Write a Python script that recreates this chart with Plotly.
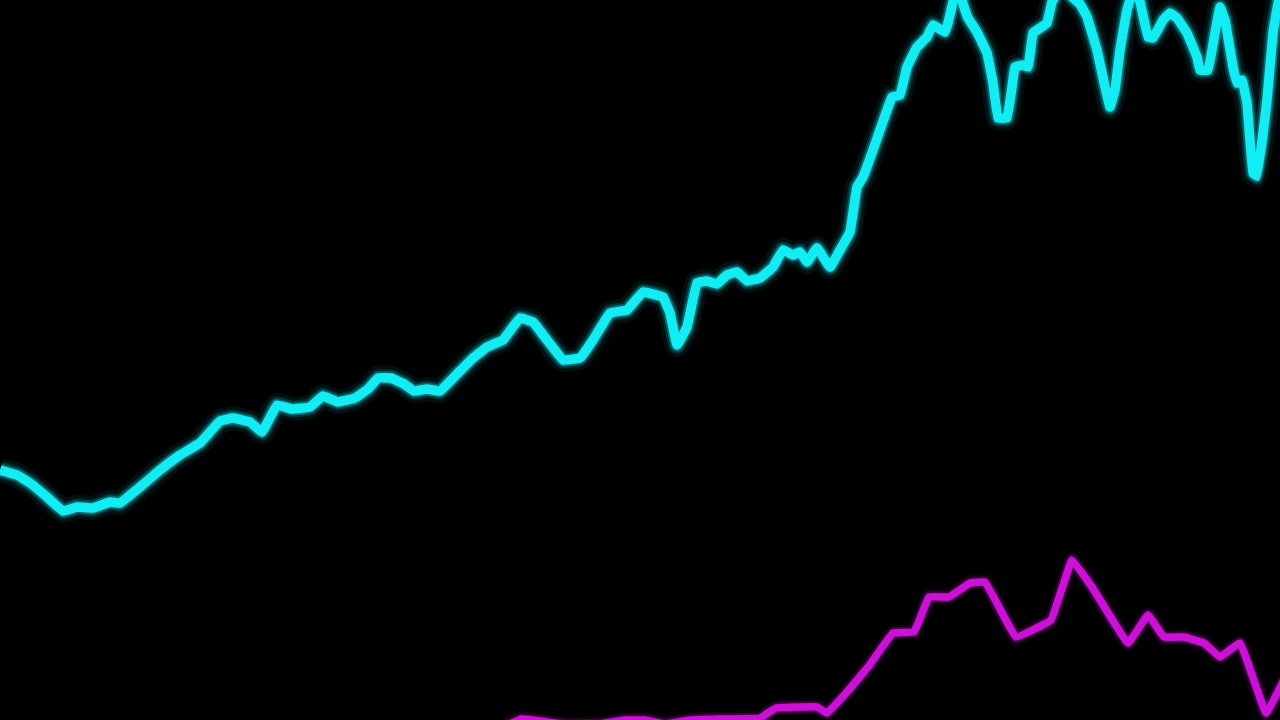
import plotly.graph_objects as go

# Cyan series: x position and level (measured from the top of the frame)
cyan_x = [0, 17, 30, 47, 63, 77, 93, 110, 120, 140, 160, 180, 200, 220, 233, 250, 262, 277, 292, 310, 323, 338, 355, 368, 378, 391, 404, 414, 427, 440, 457, 473, 487, 503, 520, 533, 547, 563, 580, 593, 610, 627, 643, 663, 670, 677, 687, 697, 707, 717, 727, 737, 747, 760, 773, 783, 793, 800, 807, 817, 830, 840, 850, 857, 863, 873, 887, 892, 900, 907, 917, 927, 933, 945, 948, 953, 958, 963, 968, 977, 987, 993, 998, 1007, 1012, 1015, 1023, 1028, 1033, 1040, 1047, 1052, 1062, 1073, 1080, 1087, 1097, 1105, 1110, 1115, 1120, 1127, 1134, 1140, 1148, 1153, 1163, 1170, 1177, 1187, 1197, 1200, 1208, 1215, 1220, 1225, 1233, 1237, 1242, 1247, 1253, 1257, 1267, 1273, 1278, 1284]
cyan_y = [470, 475, 483, 497, 511, 507, 508, 502, 503, 487, 470, 455, 443, 421, 418, 422, 432, 405, 409, 407, 396, 402, 398, 389, 378, 378, 384, 391, 389, 391, 374, 358, 347, 340, 318, 322, 340, 360, 358, 340, 313, 310, 292, 297, 313, 345, 327, 283, 281, 284, 275, 272, 281, 278, 267, 250, 255, 252, 262, 248, 267, 250, 232, 187, 177, 150, 110, 97, 95, 67, 47, 37, 25, 32, 23, 2, -12, 4, 18, 32, 53, 83, 118, 118, 87, 67, 65, 67, 33, 28, 23, 2, -15, -2, 4, 17, 50, 87, 107, 90, 50, 10, -12, 2, 37, 38, 20, 13, 18, 33, 57, 70, 70, 33, 7, 20, 67, 83, 80, 103, 173, 176, 100, 33, 4, -25]

# Magenta series
mag_x = [505, 522, 540, 570, 600, 625, 645, 665, 690, 720, 760, 776, 800, 817, 827, 847, 868, 893, 914, 929, 949, 970, 985, 1016, 1051, 1072, 1092, 1128, 1148, 1164, 1184, 1204, 1220, 1240, 1266, 1284]
mag_y = [726, 719, 721, 725, 724, 720, 720, 724, 720, 719, 718, 708, 707, 707, 713, 692, 667, 633, 632, 597, 597, 583, 582, 637, 620, 560, 587, 643, 615, 637, 637, 643, 657, 643, 713, 680]

CYAN = "#12EDF4"
MAGENTA = "#CC10D6"

fig = go.Figure()

def glow(x, y, color, widths_opacities):
    for w, op in widths_opacities:
        fig.add_trace(go.Scatter(x=x, y=y, mode="lines",
                                 line=dict(color=color, width=w, shape="spline", smoothing=0.2),
                                 opacity=op, hoverinfo="skip", showlegend=False))

glow(cyan_x, cyan_y, CYAN, [(24, 0.07), (17, 0.14), (13, 0.3), (9.5, 1.0)])
glow(mag_x, mag_y, MAGENTA, [(15, 0.1), (11, 0.22), (7.5, 1.0)])

fig.update_layout(
    width=1280, height=720,
    margin=dict(l=0, r=0, t=0, b=0),
    paper_bgcolor="black", plot_bgcolor="black",
    showlegend=False,
    xaxis=dict(visible=False, range=[0, 1280], fixedrange=True),
    yaxis=dict(visible=False, range=[720, 0], fixedrange=True),
)

fig.write_html("out.html", config={"displayModeBar": False},
               post_script="document.body.style.margin='0';document.body.style.background='black';")
